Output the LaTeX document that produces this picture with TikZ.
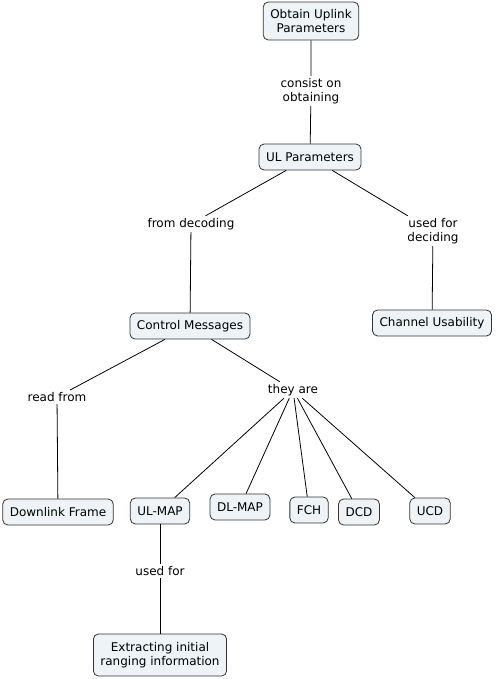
\documentclass[tikz,border=0pt]{standalone}
\usepackage{fontspec}
\setmainfont{DejaVu Sans}
\definecolor{boxfill}{HTML}{EDF3F6}
\definecolor{boxline}{HTML}{333333}

\begin{document}
\begin{tikzpicture}[x=1pt,y=-1pt,
        font=\fontsize{12}{14}\selectfont,line width=0.8pt,
        concept/.style={draw=boxline,fill=boxfill,rounded corners=5pt,inner xsep=7pt,minimum height=26pt,align=center},
        phrase/.style={inner sep=2pt,align=center}]
    \useasboundingbox (0,0) rectangle (495,679);

    % concepts
    \node[concept,minimum height=38pt] (obtain)   at (311,21)  {Obtain Uplink\\Parameters};
    \node[concept] (ulparams) at (310,157) {UL Parameters};
    \node[concept] (control)  at (190,326) {Control Messages};
    \node[concept] (channel)  at (432,323) {Channel Usability};
    \node[concept] (downlink) at (58,512)  {Downlink Frame};
    \node[concept] (ulmap)    at (160,511) {UL-MAP};
    \node[concept] (dlmap)    at (240,507) {DL-MAP};
    \node[concept] (fch)      at (309,510) {FCH};
    \node[concept] (dcd)      at (359,512) {DCD};
    \node[concept] (ucd)      at (430,511) {UCD};
    \node[concept,minimum height=42pt] (extract) at (160,655) {Extracting initial\\ranging information};

    % linking phrases
    \node[phrase] (consist)  at (311,91)  {consist on\\obtaining};
    \node[phrase] (decoding) at (191,224) {from decoding};
    \node[phrase] (deciding) at (433,231) {used for\\deciding};
    \node[phrase] (readfrom) at (57,397)  {read from};
    \node[phrase] (theyare)  at (293,390) {they are};
    \node[phrase] (usedfor)  at (160,571) {used for};

    \draw (obtain) -- (consist) -- (ulparams);
    \draw (ulparams) -- (decoding) -- (control);
    \draw (ulparams) -- (deciding) -- (channel);
    \draw (control) -- (readfrom) -- (downlink);
    \draw (control) -- (theyare);
    \draw (theyare) -- (ulmap);
    \draw (theyare) -- (dlmap);
    \draw (theyare) -- (fch);
    \draw (theyare) -- (dcd);
    \draw (theyare) -- (ucd);
    \draw (ulmap) -- (usedfor) -- (extract);
\end{tikzpicture}
\end{document}
